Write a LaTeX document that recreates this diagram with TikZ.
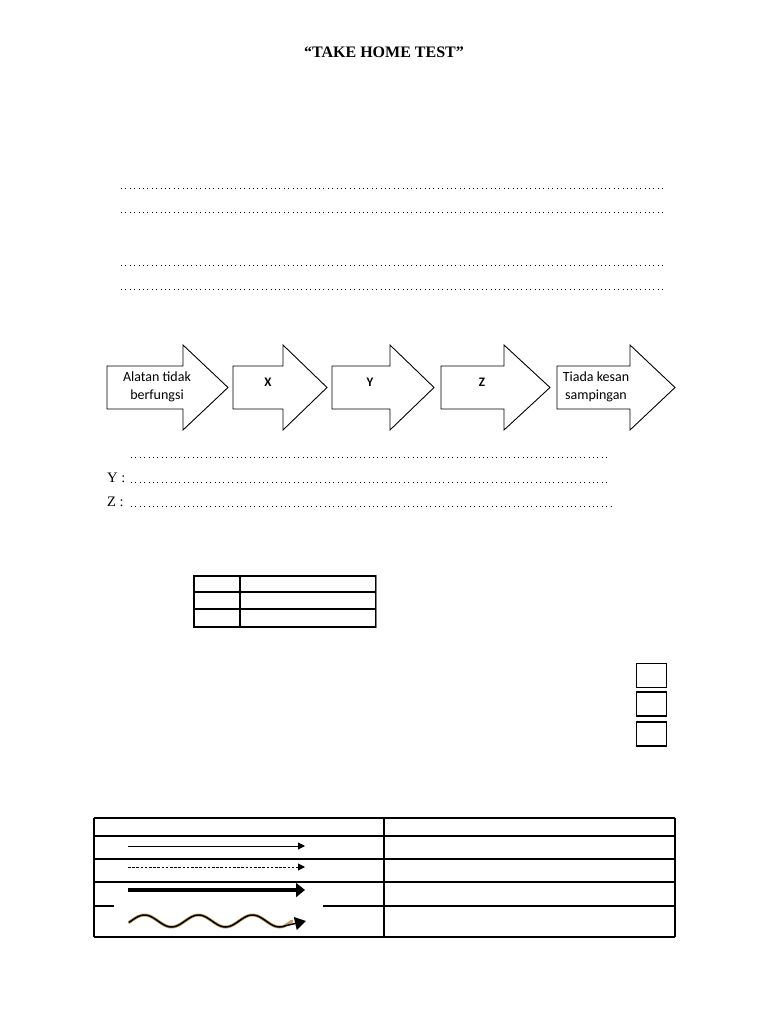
\documentclass[tikz,border=0pt]{standalone}
\usepackage{fontspec}
\setmainfont{Liberation Serif}
\newfontfamily\calibri{Carlito}
\usetikzlibrary{arrows.meta}

\tikzset{
  arrowtext/.style={font=\calibri\fontsize{14}{18}\selectfont, align=center, inner sep=0pt},
  letter/.style={font=\calibri\bfseries\fontsize{13}{15}\selectfont, inner sep=0pt},
  dotline/.style={line width=1pt, dash pattern=on 1pt off 3.4pt},
  grid/.style={line width=1.1pt},
  tickbox/.style={draw, line width=1.1pt, minimum width=30pt, minimum height=24pt, inner sep=0pt},
}

% fat block arrow: left, head base, tip
\newcommand{\fatarrow}[3]{%
  \draw[line width=0.9pt, line join=miter] (#1,366) -- (#2,366) -- (#2,345) -- (#3,387.5)
    -- (#2,430) -- (#2,409) -- (#1,409) -- cycle;}

\begin{document}
\begin{tikzpicture}[x=1pt, y=-1pt]
  \useasboundingbox (0,0) rectangle (768,1024);
  \node[font=\bfseries\fontsize{16}{19}\selectfont] (title) at (384,52) {``TAKE HOME TEST''};
  % Draw the answer lines
  \draw[dotline] (121,189) -- (665,189);
  \draw[dotline] (121,213) -- (665,213);
  \draw[dotline] (121,265) -- (665,265);
  \draw[dotline] (121,289) -- (665,289);
  % Draw the block arrows
  \fatarrow{107}{183}{228}
  \fatarrow{233}{283}{327}
  \fatarrow{332}{390}{434}
  \fatarrow{441}{504}{550}
  \fatarrow{557}{630}{675}
  \node[arrowtext] (start) at (157,387) {Alatan tidak\\berfungsi};
  \node[letter] (x) at (268,382) {X};
  \node[letter] (y) at (370,382) {Y};
  \node[letter] (z) at (482,382) {Z};
  \node[arrowtext] (end) at (596,387) {Tiada kesan\\sampingan};
  % Draw the lines for X, Y and Z
  \draw[dotline] (131,457) -- (610,457);
  \node[anchor=west, inner sep=0pt, font=\fontsize{14.5}{16}\selectfont] (ylabel) at (107,478) {Y :};
  \draw[dotline] (131,482) -- (610,482);
  \node[anchor=west, inner sep=0pt, font=\fontsize{14.5}{16}\selectfont] (zlabel) at (107,502) {Z :};
  \draw[dotline] (131,506) -- (614,506);
  % Draw the small table
  \draw[grid] (194,576) rectangle (376,627);
  \draw[grid] (240,576) -- (240,627);
  \draw[grid] (194,592) -- (376,592);
  \draw[grid] (194,609) -- (376,609);
  \draw[line width=1.6pt, gray] (376.5,575) -- (376.5,628);
  % Draw the boxes
  \node[tickbox] (box1) at (651.5,675.5) {};
  \node[tickbox] (box2) at (651.5,704) {};
  \node[tickbox] (box3) at (651.5,734) {};
  % Draw the big table
  \draw[grid] (94,818) -- (675,818);
  \draw[grid] (94,836) -- (675,836);
  \draw[grid] (94,859) -- (675,859);
  \draw[grid] (94,882) -- (675,882);
  \draw[grid] (94,906) -- (114,906);
  \draw[grid] (323,906) -- (675,906);
  \draw[grid] (94,937) -- (675,937);
  \draw[grid] (94,818) -- (94,937);
  \draw[grid] (384,818) -- (384,937);
  \draw[grid] (675,818) -- (675,937);
  % Draw the arrows in the big table
  \coordinate (a1) at (128,846);
  \coordinate (b1) at (305,846);
  \draw[line width=1pt, -{Triangle[length=7pt, width=7pt]}] (a1) -- (b1);
  \coordinate (a2) at (128,867);
  \coordinate (b2) at (305,867);
  \draw[line width=1pt, dash pattern=on 2.6pt off 1.6pt, -{Triangle[length=7pt, width=7pt]}] (a2) -- (b2);
  \coordinate (a3) at (128,890);
  \coordinate (b3) at (305,890);
  \draw[line width=3.6pt, -{Triangle[length=9pt, width=14pt]}] (a3) -- (b3);
  \coordinate (b4) at (306,921);
  \draw[line width=3pt, color={rgb,255:red,196;green,160;blue,96}, line cap=round]
    plot[domain=129:285, samples=90] (\x, {921 - 6*sin((\x-131)/54*360)}) -- (292,921);
  \draw[line width=1.5pt, -{Triangle[length=11pt, width=13pt]}]
    plot[domain=129:285, samples=90] (\x, {921 - 6*sin((\x-131)/54*360)}) -- (b4);
\end{tikzpicture}
\end{document}
